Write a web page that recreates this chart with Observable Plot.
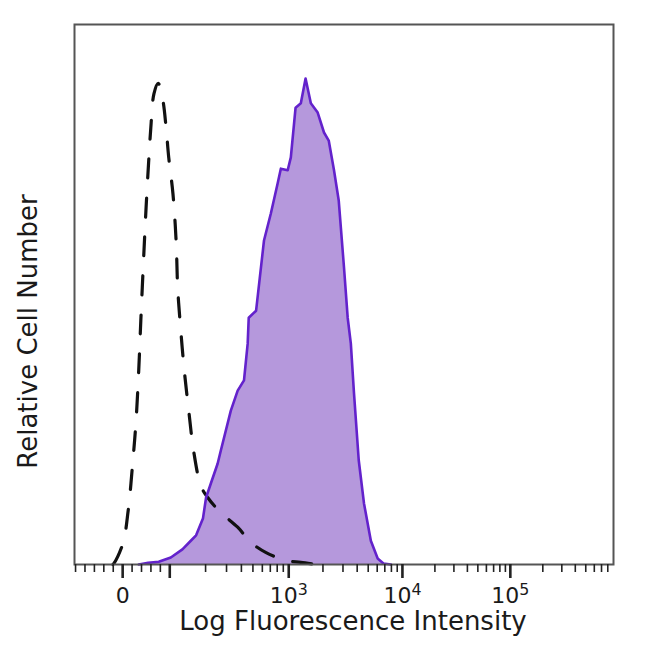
<!DOCTYPE html>
<html>
<head>
<meta charset="utf-8">
<script src="https://cdn.jsdelivr.net/npm/d3@7"></script>
<script src="https://cdn.jsdelivr.net/npm/@observablehq/plot@0.6"></script>
<style>
  html, body { margin: 0; padding: 0; background: #fff; }
</style>
</head>
<body>
<div id="chart"></div>
<script>
// Display channels (0–1024) of a biexponential fluorescence axis
const stainedChannel = [122, 140, 160, 183, 205, 221, 231, 244, 250, 259, 272, 278, 297, 310, 322, 329, 331, 345, 360, 373, 386, 392, 405, 411, 420, 430, 439, 449, 462, 474, 483, 493, 502, 512, 519, 525, 531, 540, 550, 563, 576, 587, 601];
const stainedCount = [0, 0.3, 0.5, 1.3, 2.8, 4.4, 5.4, 8.5, 12.4, 15.0, 18.7, 21.1, 28.5, 32.2, 34.1, 40.9, 45.7, 47.0, 60.0, 65.0, 70.6, 73.3, 73.0, 75.4, 84.6, 85.4, 90.0, 85.4, 83.7, 80.0, 78.5, 73.0, 67.4, 55.0, 45.7, 40.9, 31.7, 19.3, 11.3, 4.4, 1.1, 0.2, 0];

const controlChannel = [73, 75, 92, 102, 111, 117, 122, 126, 132, 136, 141, 145, 151, 159, 168, 174, 179, 187, 193, 196, 200, 208, 217, 227, 240, 253, 278, 310, 335, 364, 404, 430, 458];
const controlCount = [0, 0.2, 3.9, 10.0, 19.3, 26.7, 35.9, 45.2, 58.1, 66.1, 74.8, 80.9, 87.2, 89.1, 85.9, 80.9, 75.4, 68.7, 60.0, 51.3, 45.7, 36.5, 28.5, 20.6, 14.6, 12.4, 9.6, 6.9, 4.1, 2.2, 0.7, 0.4, 0];

// Axis decades: 0, 10², 10³, 10⁴, 10⁵ (channel positions) and their labels
const decadeChannel = [91.5, 181, 407, 623, 828];
const decadeLabel = ["0", "", "10³", "10⁴", "10⁵"];

const xTitle = "Log Fluorescence Intensity";
const yTitle = "Relative Cell Number";

const stained = stainedChannel.map((c, i) => ({channel: c, count: stainedCount[i]}));
const control = controlChannel.map((c, i) => ({channel: c, count: controlCount[i]}));
const labelMap = new Map(decadeChannel.map((c, i) => [c, decadeLabel[i]]));

// minor ticks
const minorTicks = [];
const linStep = (decadeChannel[1] - decadeChannel[0]) / 5;
for (let k = 1; k <= 5; k++) { const v = decadeChannel[0] - k * linStep; if (v >= 0) minorTicks.push(v); }
for (let k = 1; k <= 4; k++) minorTicks.push(decadeChannel[0] + k * linStep);
for (let i = 1; i < decadeChannel.length - 1; i++) {
  const w = decadeChannel[i + 1] - decadeChannel[i];
  for (let m = 2; m <= 9; m++) minorTicks.push(decadeChannel[i] + Math.log10(m) * w);
}
{
  const n = decadeChannel.length;
  const w = decadeChannel[n - 1] - decadeChannel[n - 2];
  for (let m = 2; m <= 9; m++) { const v = decadeChannel[n - 1] + Math.log10(m) * w; if (v <= 1022) minorTicks.push(v); }
}

const chart = Plot.plot({
  width: 650,
  height: 650,
  marginLeft: 74,
  marginRight: 37,
  marginTop: 24,
  marginBottom: 86,
  style: {fontFamily: "DejaVu Sans", background: "white", color: "#1a1a1a"},
  x: {domain: [0, 1024], label: null},
  y: {domain: [0, 100], axis: null},
  marks: [
    Plot.areaY(stained, {x: "channel", y: "count", fill: "#b598dc"}),
    Plot.lineY(control, {x: "channel", y: "count", stroke: "#111", strokeWidth: 3.2, strokeDasharray: "19,20", curve: "catmull-rom"}),
    Plot.lineY(stained, {x: "channel", y: "count", stroke: "#6322cc", strokeWidth: 2.6}),
    Plot.frame({stroke: "#555", strokeWidth: 2}),
    Plot.axisX(minorTicks, {tickSize: 8, tickFormat: () => "", stroke: "#222", strokeWidth: 1.6, label: null}),
    Plot.axisX(decadeChannel, {tickSize: 14, tickPadding: 9, tickFormat: d => labelMap.get(d), fontSize: 22, stroke: "#222", color: "#1a1a1a", strokeWidth: 2.6, label: null}),
    Plot.text([xTitle], {frameAnchor: "bottom", dy: 47, dx: 9, lineAnchor: "top", textAnchor: "middle", fontSize: 26, fill: "#1a1a1a"}),
    Plot.text([yTitle], {frameAnchor: "left", dx: -46, dy: 37, rotate: -90, lineAnchor: "middle", textAnchor: "middle", fontSize: 26, fill: "#1a1a1a"})
  ]
});

// render superscript exponents
const sup = {"³": "3", "⁴": "4", "⁵": "5"};
chart.querySelectorAll("text").forEach(t => {
  const m = t.textContent.match(/^10([³⁴⁵])$/);
  if (m) {
    t.textContent = "10";
    const ts = document.createElementNS("http://www.w3.org/2000/svg", "tspan");
    ts.setAttribute("dy", "-0.5em");
    ts.setAttribute("font-size", "0.72em");
    ts.textContent = sup[m[1]];
    t.appendChild(ts);
  }
});

document.getElementById("chart").appendChild(chart);
</script>
</body>
</html>
